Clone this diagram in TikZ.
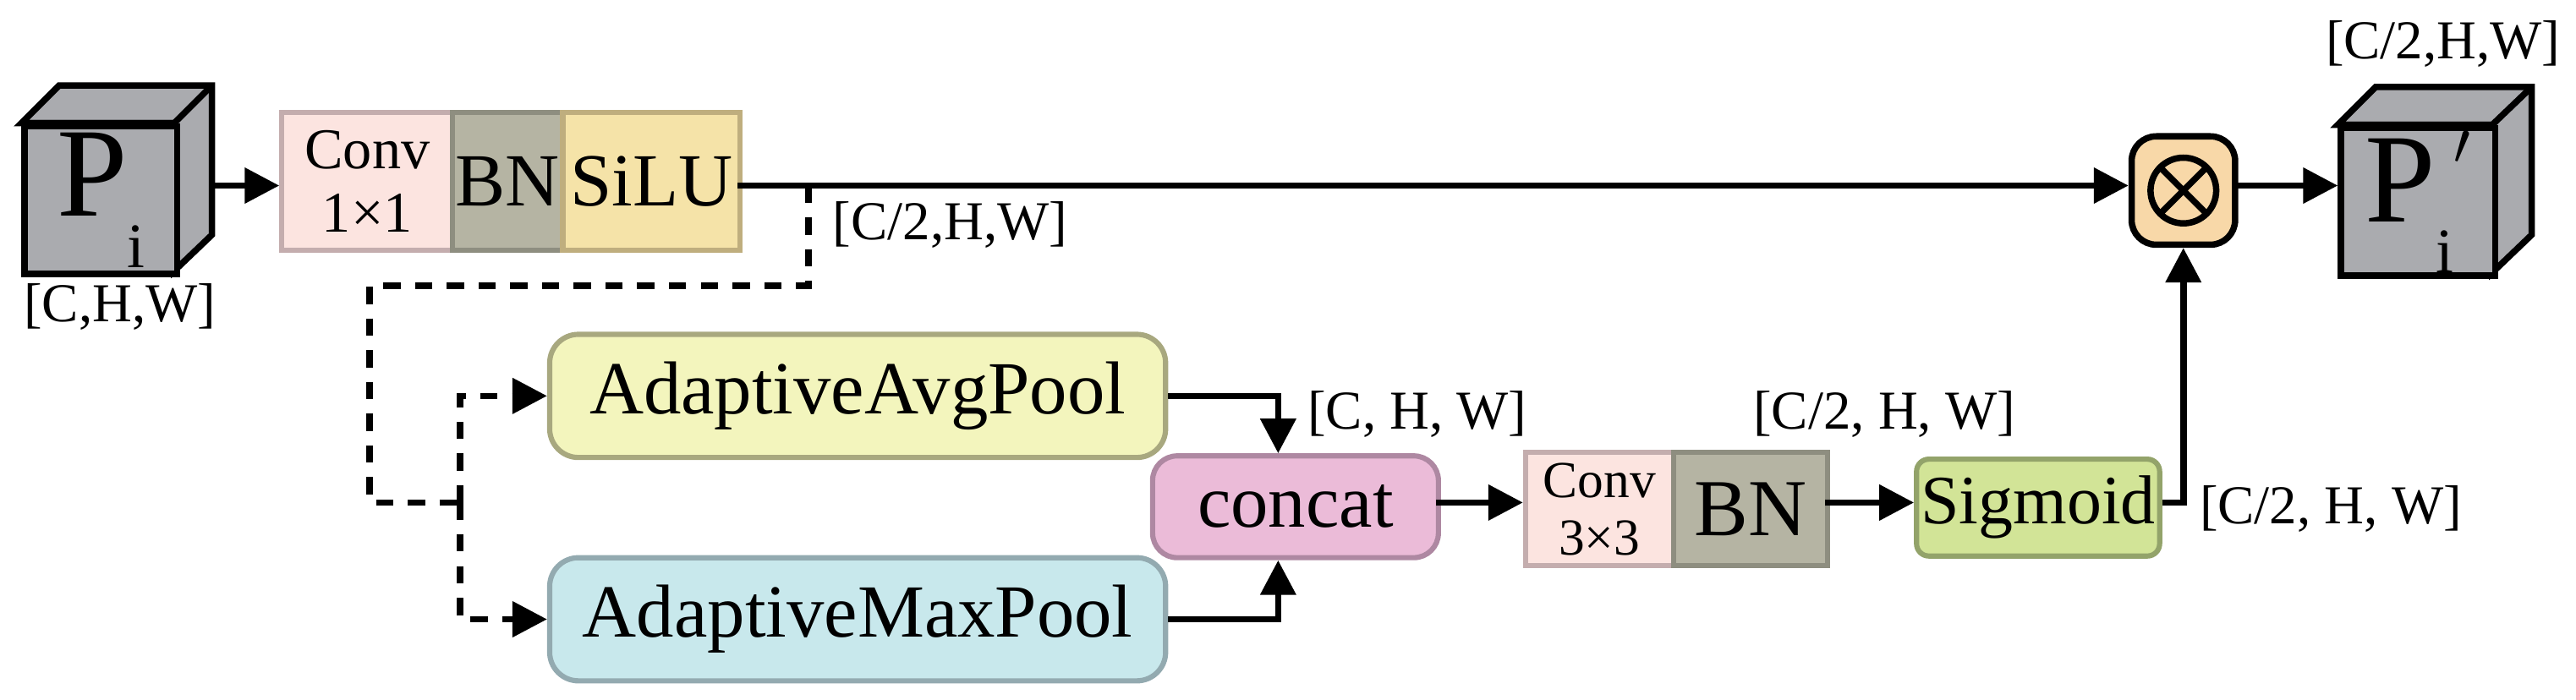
\documentclass[tikz,border=0pt]{standalone}
\usepackage{fontspec}
\setmainfont{Liberation Serif}
\usetikzlibrary{arrows.meta}
\definecolor{cubeg}{HTML}{AAABAF}
\definecolor{convf}{HTML}{FCE4E0}\definecolor{convd}{HTML}{C4ADAE}
\definecolor{bnf}{HTML}{B5B4A3}\definecolor{bnd}{HTML}{8E8E80}
\definecolor{siluf}{HTML}{F5E3A8}\definecolor{silud}{HTML}{BFAE7E}
\definecolor{avgf}{HTML}{F3F5BD}\definecolor{avgd}{HTML}{A8A87F}
\definecolor{maxf}{HTML}{C8E8EC}\definecolor{maxd}{HTML}{93AAB0}
\definecolor{catf}{HTML}{EBBBD8}\definecolor{catd}{HTML}{AE88A2}
\definecolor{sigf}{HTML}{D2E497}\definecolor{sigd}{HTML}{93A36A}
\definecolor{mulf}{HTML}{F8D8A8}
\begin{document}
\begin{tikzpicture}[x=0.02cm,y=-0.02cm,
 line width=2.2pt,
 blk/.style={draw,line width=1.8pt,inner sep=0pt,align=center},
 pool/.style={blk,rounded corners=0.35cm,minimum width=7.5cm,minimum height=1.5cm,font=\fontsize{26}{26}\selectfont},
 lbl/.style={font=\fontsize{19}{19}\selectfont,inner sep=0pt},
 arr/.style={-{Triangle[length=12pt,width=12pt]}},
 dsh/.style={dash pattern=on 6pt off 5pt}]
\useasboundingbox (0,0) rectangle (1568,426);
% input cube
\filldraw[fill=cubeg,draw=black] (13,75) -- (36,52) -- (129,52) -- (129,143) -- (106,165) -- (106,75) -- cycle;
\draw (13,75) -- (106,75) -- (129,52);
\node[draw,fill=cubeg,minimum width=1.86cm,minimum height=1.8cm,inner sep=0pt,anchor=north west] (pi) at (13,75) {};
\node[font=\fontsize{44}{44}\selectfont] at (pi) {P\raisebox{-0.4em}{\fontsize{22}{22}\selectfont i}};
\node[lbl] (l0) at (73,187) {[C,H,W]};
% conv 1x1 block
\node[blk,fill=convf,draw=convd,minimum width=2.08cm,minimum height=1.68cm,anchor=north west,font=\fontsize{20}{22}\selectfont] (c1) at (170,67) {Conv\\1×1};
\node[blk,fill=bnf,draw=bnd,minimum width=1.34cm,minimum height=1.68cm,anchor=north west,font=\fontsize{26}{26}\selectfont] (b1) at (274,67) {BN};
\node[blk,fill=siluf,draw=silud,minimum width=2.16cm,minimum height=1.68cm,anchor=north west,font=\fontsize{26}{26}\selectfont] (s1) at (341,67) {SiLU};
\coordinate (a0) at (129,113);
\draw[arr] (a0) -- (a0 -| c1.west);
\node[lbl,anchor=west] (l1) at (505,137) {[C/2,H,W]};
% multiply
\node[blk,draw=black,line width=2.2pt,fill=mulf,rounded corners=0.3cm,minimum width=1.26cm,minimum height=1.32cm] (mul) at (1329,116) {};
\draw[line width=2.2pt] (mul) circle (0.4cm);
\draw[line width=2.2pt] (mul) ++(45:0.4cm) -- ++(225:0.8cm) (mul) ++(135:0.4cm) -- ++(-45:0.8cm);
\coordinate (a1) at (449,113);
\draw[arr] (a1) -- (a1 -| mul.west);
% output cube
\filldraw[fill=cubeg,draw=black] (1423,76) -- (1446,53) -- (1541,53) -- (1541,143) -- (1517,166) -- (1517,76) -- cycle;
\draw (1423,76) -- (1517,76) -- (1541,53);
\node[draw,fill=cubeg,minimum width=1.88cm,minimum height=1.8cm,inner sep=0pt,anchor=north west] (po) at (1423,76) {};
\node[font=\fontsize{44}{44}\selectfont] at (po) {P\raisebox{-0.4em}{\fontsize{22}{22}\selectfont i}\raisebox{0.25em}{\fontsize{30}{30}\selectfont$'$}};
\coordinate (a2) at (1361,113);
\draw[arr] (a2) -- (a2 -| po.west);
\node[lbl] (l2) at (1487,27) {[C/2,H,W]};
% pools
\node[pool,fill=avgf,draw=avgd,anchor=north west] (avg) at (333,202) {AdaptiveAvgPool};
\node[pool,fill=maxf,draw=maxd,anchor=north west] (max) at (333,338) {AdaptiveMaxPool};
\coordinate (d0) at (492,113);
\coordinate (d1) at (225,174);
\coordinate (d2) at (280,306);
\draw[dsh] (d0) |- (d1) |- (d2);
\draw[dsh,arr] (d2) |- (avg.west);
\draw[dsh,arr] (d2) |- (max.west);
% concat
\node[blk,fill=catf,draw=catd,rounded corners=0.3cm,minimum width=3.48cm,minimum height=1.24cm,anchor=north west,font=\fontsize{26}{26}\selectfont] (cat) at (700,276) {concat};
\draw[arr] (avg.east) -| (778,0 |- cat.north);
\draw[arr] (max.east) -| (778,0 |- cat.south);
\node[lbl,anchor=west] (l3) at (794,252) {[C, H, W]};
% conv 3x3
\node[blk,fill=convf,draw=convd,minimum width=1.8cm,minimum height=1.38cm,anchor=north west,font=\fontsize{18}{20}\selectfont] (c3) at (927,274) {Conv\\3×3};
\node[blk,fill=bnf,draw=bnd,minimum width=1.88cm,minimum height=1.38cm,anchor=north west,font=\fontsize{28}{28}\selectfont] (b3) at (1017,274) {BN};
\coordinate (a3) at (874,306);
\draw[arr] (a3) -- (a3 -| c3.west);
\node[lbl] (l4) at (1147,252) {[C/2, H, W]};
% sigmoid
\node[blk,fill=sigf,draw=sigd,rounded corners=0.15cm,minimum width=2.96cm,minimum height=1.18cm,anchor=north west,font=\fontsize{24}{24}\selectfont] (sig) at (1165,278) {Sigmoid};
\coordinate (a4) at (1111,306);
\draw[arr] (a4) -- (a4 -| sig.west);
\draw[arr] (sig.east |- a4) -| (mul.south);
\node[lbl,anchor=west] (l5) at (1337,310) {[C/2, H, W]};
\end{tikzpicture}
\end{document}
